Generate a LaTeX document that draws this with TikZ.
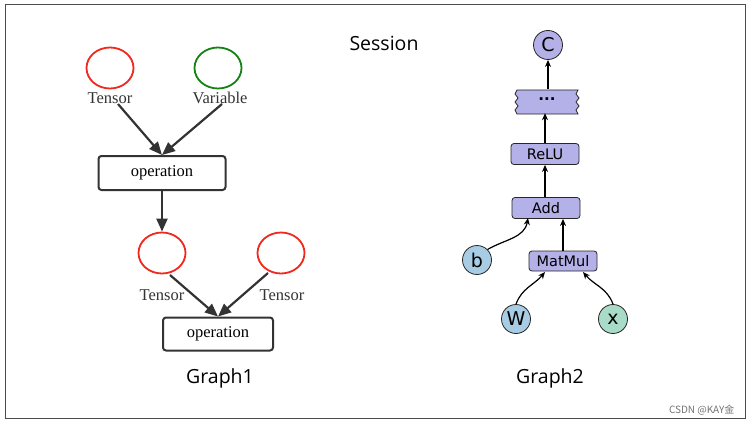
\documentclass[tikz,border=0pt]{standalone}
\usepackage{fontspec}
\setmainfont{Liberation Serif}
\newfontfamily\sansf{Open Sans}
\newfontfamily\dvs{DejaVu Sans}
\newfontfamily\cjkf{Noto Sans CJK SC}
\usetikzlibrary{arrows.meta,shapes.geometric}
\definecolor{tred}{RGB}{240,40,30}
\definecolor{tgreen}{RGB}{20,130,20}
\definecolor{pur}{RGB}{180,176,232}
\definecolor{blu}{RGB}{168,204,228}
\definecolor{teal}{RGB}{168,220,200}
\begin{document}
\begin{tikzpicture}[x=1pt,y=-1pt,
 circ/.style={draw=#1,line width=1.8pt,ellipse,minimum width=47pt,minimum height=41pt,inner sep=0},
 lab/.style={font=\fontsize{16.5}{16}\selectfont,text=black!80},
 op/.style={draw=black!80,line width=2pt,rounded corners=3pt,font=\fontsize{16.5}{16}\selectfont},
 bar/.style={-{Triangle[length=13pt,width=11pt]},line width=2.2pt,black!80},
 gn/.style={draw=black!85,fill=pur,rounded corners=3pt,line width=0.8pt,font=\dvs\fontsize{14.5}{14}\selectfont,inner sep=0},
 gc/.style={draw=black!85,fill=#1,circle,line width=0.8pt,minimum size=29pt,inner sep=0,font=\dvs\fontsize{19}{19}\selectfont},
 ga/.style={-{Stealth[length=7pt,width=6pt]},line width=1.2pt,black},
 big/.style={font=\sansf\fontsize{19.5}{20}\selectfont}]
\useasboundingbox (0,0) rectangle (751,425);
\fill[white] (0,0) rectangle (751,425);
\draw[black!70,line width=1pt] (5,5) rectangle (745,418);
\node[big] (sess) at (384,43) {Session};
\node[big] (g1) at (220,378) {Graph1};
\node[big] (g2) at (550,378) {Graph2};
\node[text=black!55,font=\cjkf\fontsize{10}{10}\selectfont,anchor=east] (wm) at (738,410) {CSDN @KAY金};
% graph 1
\node[circ=tred] (t1) at (110,68) {};
\node[circ=tgreen] (v1) at (218,68) {};
\node[lab] (t1l) at (110,98) {Tensor};
\node[lab] (v1l) at (220,98) {Variable};
\node[op,minimum width=127pt,minimum height=34pt] (op1) at (162,173) {operation};
\node[circ=tred] (t2) at (162,253) {};
\node[circ=tred] (t3) at (281,253) {};
\node[lab] (t2l) at (162,295) {Tensor};
\node[lab] (t3l) at (282,295) {Tensor};
\node[op,minimum width=110pt,minimum height=33pt] (op2) at (218,334) {operation};
\draw[bar] (118,104) -- (op1.north);
\draw[bar] (222,104) -- (op1.north);
\draw[bar] (op1.south) -- (t2.north);
\draw[bar] (170,275) -- (op2.north);
\draw[bar] (268,273) -- (op2.north);
% graph 2
\node[gc=pur] (C) at (548,45) {C};
\node[minimum width=61pt,minimum height=24pt,inner sep=0] (dots) at (547,101) {};
\draw[black!85,line width=0.8pt,fill=pur] (517,90) -- (578,90) -- (576,94) -- (579,98) -- (576,102) -- (579,106) -- (576,110) -- (578,114) -- (517,114) -- (515,110) -- (518,106) -- (515,102) -- (518,98) -- (515,94) -- cycle;
\node[font=\dvs\fontsize{15}{15}\selectfont] at (547,99) {\textbf{...}};
\node[gn,minimum width=68pt,minimum height=21pt] (relu) at (545,154) {ReLU};
\node[gn,minimum width=68pt,minimum height=21pt] (add) at (546,208) {Add};
\node[gn,minimum width=68pt,minimum height=20pt] (mm) at (563,261) {MatMul};
\node[gc=blu] (b) at (477,260) {b};
\node[gc=blu] (W) at (516,319) {W};
\node[gc=teal] (x) at (613,319) {x};
\draw[ga] (dots.north -| C) -- (C);
\draw[ga] (relu.north) -- (dots.south -| relu);
\draw[ga] (add.north -| relu) -- (relu);
\draw[ga] (mm.north) -- (mm.north |- add.south);
\draw[ga] (b.north east) to[out=30,in=-100] (528,218);
\draw[ga] (W.north) to[out=70,in=-130] (545,272);
\draw[ga] (x.north) to[out=110,in=-50] (583,272);
\end{tikzpicture}
\end{document}
